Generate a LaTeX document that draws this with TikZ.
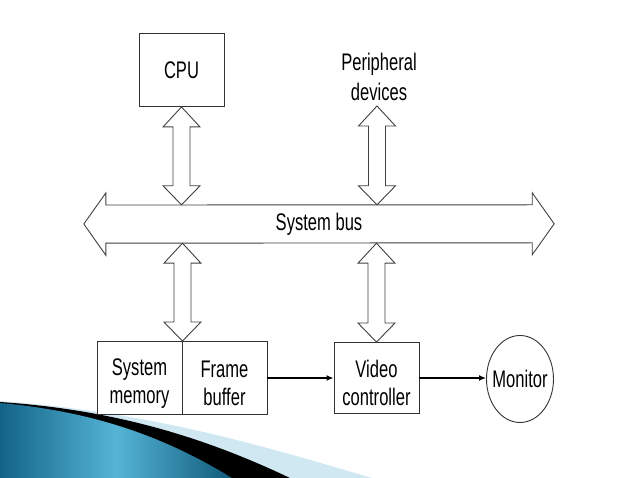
\documentclass[tikz,border=0pt]{standalone}
\usepackage{fontspec}
\setmainfont{Liberation Sans}[FakeStretch=0.69]
\usetikzlibrary{shapes.geometric,calc,arrows.meta}
\definecolor{swlight}{RGB}{208,232,242}
\definecolor{swdark}{RGB}{18,100,135}
\definecolor{swmid}{RGB}{85,180,214}
\newcommand\topstrut{\rule{0pt}{27pt}}
\tikzset{
  txt/.style={font=\fontsize{24}{28}\selectfont},
  boxnode/.style={draw=black!80, line width=0.9pt, fill=white, minimum width=85pt, minimum height=73pt, inner sep=0pt, align=center, txt},
  blockarrow/.style={draw=black!75, line width=0.9pt, fill=white, line join=miter},
  flow/.style={draw=black, line width=2pt, -{Latex[length=7pt,width=6pt]}},
  lbl/.style={align=center, font=\fontsize{24}{30}\selectfont, inner sep=0pt}
}
\newcommand\vdarrow[2]{%
  \path[blockarrow] let \p1=(#1), \p2=(#2) in
    (\x1,\y1) -- ++(18.5,20) -- ++(-10,0) -- (\x1+8.5pt,\y2+19pt) -- ++(10,0)
    -- (\x2,\y2) -- ++(-18.5,-19) -- ++(10,0) -- (\x1-8.5pt,\y1-20pt) -- ++(-10,0) -- cycle;}
\begin{document}
\begin{tikzpicture}[x=1pt,y=-1pt]
\useasboundingbox (0,0) rectangle (638,478);
% decorative swoosh
\fill[swlight] (0,401) .. controls (150,412) and (260,445) .. (372,478) -- (0,478) -- cycle;
\fill[black] (0,402) .. controls (120,410) and (210,440) .. (290,478) -- (0,478) -- cycle;
\shade[left color=swdark, right color=swdark!90!black, middle color=swmid]
  (0,403) .. controls (100,412) and (170,440) .. (232,478) -- (0,478) -- cycle;
% nodes
\node[boxnode] (cpu) at (181.5,70) {CPU};
\node[lbl] (periph) at (379,77) {Peripheral\\devices};
\coordinate (pdev) at (377,106);
\node[minimum width=426pt, minimum height=38pt, inner sep=0pt] (bus) at (319,224) {};
\node[boxnode] (mem) at (139.5,378) {\topstrut System\\memory};
\node[boxnode] (fb) at (224.5,378) {\topstrut Frame\\buffer};
\node[boxnode, minimum height=71pt] (vc) at (376.5,378) {\topstrut Video\\controller};
\node[ellipse, draw=black!80, line width=0.9pt, minimum width=67pt, minimum height=87pt, inner sep=0pt] (mon) at (520,379) {};
\node[txt] (monlbl) at (mon) {Monitor};
% bus
\path[blockarrow] ($(bus.west)+(-22,0)$) -- ++(22,-31) -- ++(0,12) -- (bus.north east) -- ++(0,-12)
  -- ++(22,31) -- ++(-22,31) -- ++(0,-12) -- (bus.south west) -- ++(0,12) -- cycle;
\node[txt] (buslbl) at (bus) {System bus};
% block arrows
\vdarrow{cpu.south}{cpu.south |- bus.north}
\vdarrow{pdev}{pdev |- bus.north}
\vdarrow{bus.south -| mem.north east}{mem.north east}
\vdarrow{bus.south -| vc.north}{vc.north}
% flows
\draw[flow] (fb.east) -- (vc.west);
\draw[flow] (vc.east) -- (vc.east -| mon.west);
\end{tikzpicture}
\end{document}
